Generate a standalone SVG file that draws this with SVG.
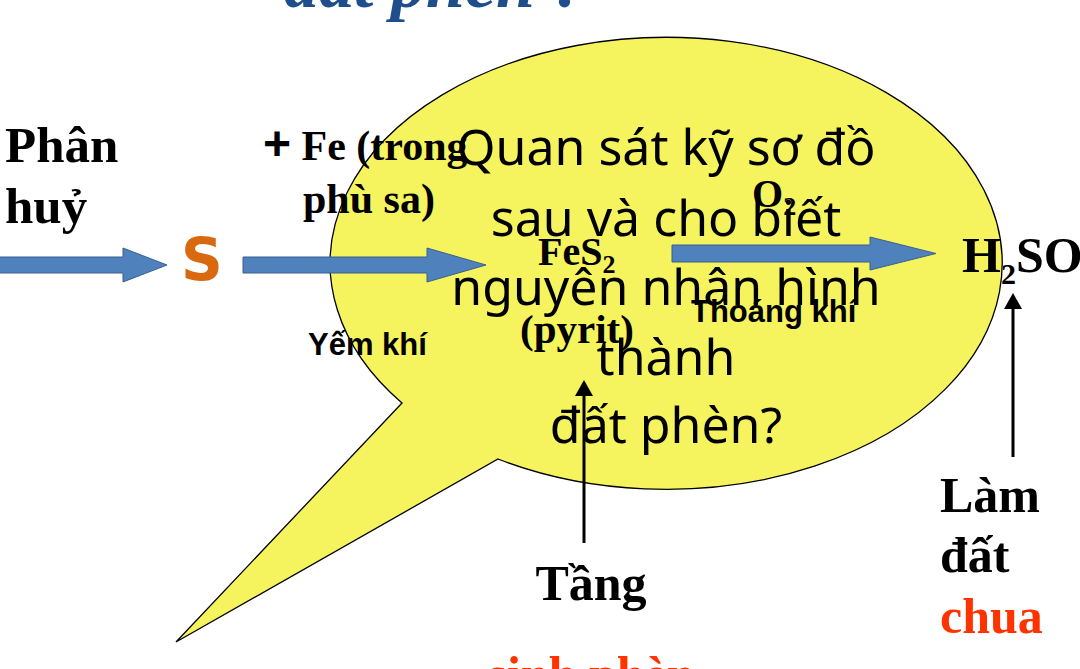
<svg xmlns="http://www.w3.org/2000/svg" width="1080" height="669" viewBox="0 0 1080 669">
<style>
.tb{font-family:"Liberation Serif","Times New Roman",serif;font-weight:bold}
.q{font-family:"Noto Sans","Liberation Sans",sans-serif;font-size:50px;fill:#000;text-anchor:middle}
.ab{font-family:"Liberation Sans",Arial,sans-serif;font-weight:bold;font-size:31px;fill:#000}
.blk{fill:#4F81BD;stroke:#3A5F8F;stroke-width:1}
.vl{stroke:#000;stroke-width:3;fill:none}
.red{fill:#FF3300}
</style>
<defs>
<marker id="ah" viewBox="0 0 16 18" refX="0" refY="9" markerWidth="16" markerHeight="18" markerUnits="userSpaceOnUse" orient="auto">
<path d="M0,0 L16,9 L0,18 Z" fill="#000"/>
</marker>
</defs>
<rect width="1080" height="669" fill="#fff"/>
<g id="title">
<text x="284" y="7" font-family="Liberation Serif,serif" font-weight="bold" font-style="italic" font-size="70" fill="#1F4E8C">đất phèn ?</text>
</g>
<g id="callout">
<path d="M402,403 L176,642 L498,459 A336,226 0 1 0 402,403 Z" fill="#F5F45F" stroke="#000" stroke-width="1.3"/>
</g>
<g id="connectors">
<polygon id="arrow1" class="blk" points="-2,257 123,257 123,248 167,265 123,282 123,273 -2,273"/>
<polygon id="arrow2" class="blk" points="243,257 427,257 427,248 486,265 427,282 427,273 243,273"/>
<polygon id="arrow3" class="blk" points="672,245 870,245 870,237 936,253.5 870,270 870,262 672,262"/>
<line class="vl" x1="584" y1="543" x2="584" y2="396" marker-end="url(#ah)"/>
<line class="vl" x1="1013" y1="457" x2="1013" y2="309" marker-end="url(#ah)"/>
</g>
<g id="phan-huy">
<text class="tb" font-size="51" x="5" y="162">Phân</text>
<text class="tb" font-size="51" x="5" y="223">huỷ</text>
</g>
<g id="s-node">
<text x="181" y="280" font-family="DejaVu Sans,sans-serif" font-weight="bold" font-size="58" fill="#D9690F">S</text>
</g>
<g id="fe-label">
<text class="tb" font-size="42" x="263" y="160"><tspan font-family="Liberation Sans,sans-serif" font-size="48">+</tspan> Fe (trong</text>
<text class="tb" font-size="42" x="303" y="213">phù sa)</text>
</g>
<g id="yem-khi">
<text class="ab" x="308" y="355">Yếm khí</text>
</g>
<g id="fes2">
<text class="tb" font-size="40" x="538" y="265">FeS<tspan font-size="26" dy="8">2</tspan></text>
<text class="tb" font-size="41" x="520" y="343">(pyrit)</text>
</g>
<g id="o2">
<text class="tb" font-size="40" x="752" y="207">O<tspan font-size="26" dy="8">2</tspan></text>
</g>
<g id="thoang-khi">
<text class="ab" x="691" y="322">Thoáng khí</text>
</g>
<g id="question">
<text class="q" x="666" y="165">Quan sát kỹ sơ đồ</text>
<text class="q" x="666" y="236">sau và cho biết</text>
<text class="q" x="666" y="305">nguyên nhân hình</text>
<text class="q" x="666" y="375">thành</text>
<text class="q" x="666" y="443">đất phèn?</text>
</g>
<g id="h2so4">
<text class="tb" font-size="50" x="962" y="272">H<tspan font-size="30" dy="12">2</tspan><tspan dy="-12">SO</tspan><tspan font-size="30" dy="12">4</tspan></text>
</g>
<g id="lam-dat-chua">
<text class="tb" font-size="50" x="940" y="512">Làm</text>
<text class="tb" font-size="50" x="940" y="572">đất</text>
<text class="tb red" font-size="50" x="940" y="633">chua</text>
</g>
<g id="tang-sinh-phen">
<text class="tb" font-size="50" x="591" y="600" text-anchor="middle">Tầng</text>
<text class="tb red" font-size="50" x="591" y="691" text-anchor="middle">sinh phèn</text>
</g>
</svg>
